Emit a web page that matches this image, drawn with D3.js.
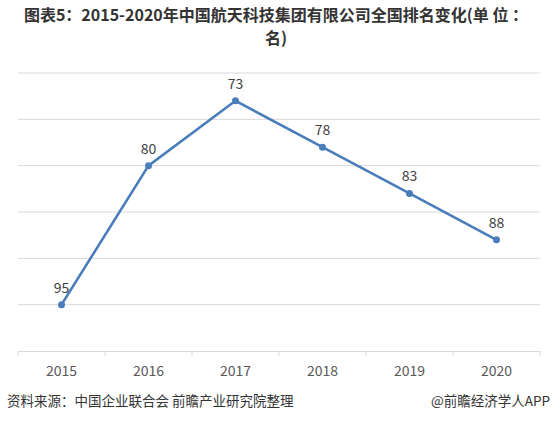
<!DOCTYPE html>
<html>
<head>
    <meta charset="utf-8">
    <script src="https://d3js.org/d3.v7.min.js"></script>
    <style>
        body { margin: 0; background: #fff; }
        text { font-family: "Microsoft YaHei", "Noto Sans CJK SC", sans-serif; }
    </style>
</head>
<body>
    <div id="chart"></div>
    <script>
        const years = ["2015", "2016", "2017", "2018", "2019", "2020"];
        const ranks = [95, 80, 73, 78, 83, 88];
        const gridValues = [70, 75, 80, 85, 90, 95, 100];
        const titleLines = ["图表5：2015-2020年中国航天科技集团有限公司全国排名变化(单 位 ：", "名)"];

        const width = 553, height = 426;
        const margin = { top: 73, right: 13, bottom: 75, left: 18 };

        const svg = d3.select("#chart").append("svg")
            .attr("width", width)
            .attr("height", height);

        const x = d3.scaleBand().domain(years).range([margin.left, width - margin.right]);
        // rank axis is inverted: best rank on top
        const y = d3.scaleLinear().domain([70, 100]).range([margin.top, height - margin.bottom]);

        // title (two lines, wrapped like the original)
        svg.selectAll(".title")
            .data(titleLines)
            .enter().append("text")
            .attr("class", "title")
            .attr("x", 276)
            .attr("y", (d, i) => 21 + i * 23)
            .attr("text-anchor", "middle")
            .style("font-size", "16px")
            .style("font-weight", "bold")
            .style("fill", "#333")
            .text(d => d);

        // gridlines
        svg.append("g").selectAll("line")
            .data(gridValues.slice(0, -1))
            .enter().append("line")
            .attr("x1", margin.left).attr("x2", width - margin.right)
            .attr("y1", d => y(d)).attr("y2", d => y(d))
            .attr("stroke", "#d9d9d9").attr("stroke-width", 1);

        // x axis
        const xAxis = svg.append("g")
            .attr("transform", "translate(0," + y(100) + ")")
            .call(d3.axisBottom(x).tickSize(0).tickPadding(15));
        xAxis.select(".domain").attr("stroke", "#d9d9d9");
        xAxis.selectAll("text").style("font-size", "14px").style("fill", "#595959")
            .style("font-family", "'Microsoft YaHei', 'Noto Sans CJK SC', sans-serif");
        const bounds = years.map(d => x(d)).concat([x(years[years.length - 1]) + x.bandwidth()]);
        xAxis.selectAll(".sep").data(bounds).enter().append("line")
            .attr("x1", d => d).attr("x2", d => d)
            .attr("y1", 0).attr("y2", 5)
            .attr("stroke", "#d9d9d9");

        const cx = d => x(d) + x.bandwidth() / 2;
        const pts = years.map((d, i) => ({ year: d, rank: ranks[i] }));

        svg.append("path")
            .datum(pts)
            .attr("fill", "none")
            .attr("stroke", "#4a7ebb")
            .attr("stroke-width", 2.6)
            .attr("d", d3.line().x(d => cx(d.year)).y(d => y(d.rank)));

        svg.selectAll(".dot")
            .data(pts)
            .enter().append("circle")
            .attr("cx", d => cx(d.year))
            .attr("cy", d => y(d.rank))
            .attr("r", 3.5)
            .attr("fill", "#4a7ebb");

        svg.selectAll(".lbl")
            .data(pts)
            .enter().append("text")
            .attr("x", d => cx(d.year))
            .attr("y", d => y(d.rank) - 12)
            .attr("text-anchor", "middle")
            .style("font-size", "14px")
            .style("fill", "#404040")
            .text(d => d.rank);

        // footer
        svg.append("text")
            .attr("x", 7).attr("y", 406)
            .style("font-size", "13.5px").style("fill", "#333")
            .text("资料来源：中国企业联合会 前瞻产业研究院整理");
        svg.append("text")
            .attr("x", 550).attr("y", 406)
            .attr("text-anchor", "end")
            .style("font-size", "13.5px").style("fill", "#333")
            .text("@前瞻经济学人APP");
    </script>
</body>
</html>
